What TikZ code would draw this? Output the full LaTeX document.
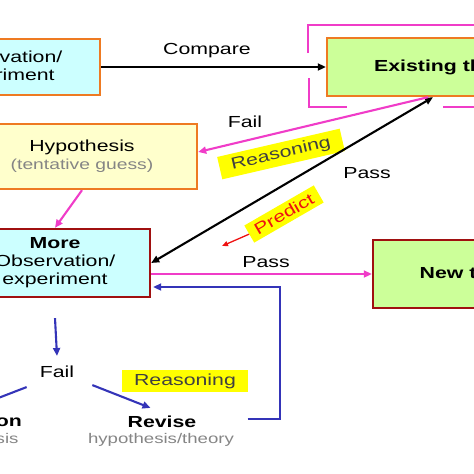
\documentclass[tikz,border=0pt]{standalone}
\usepackage{fontspec}
\setmainfont{Liberation Sans}[FakeStretch=1.33]
\usetikzlibrary{arrows.meta}

\definecolor{cyanfill}{HTML}{CCFFFF}
\definecolor{greenfill}{HTML}{CCFF99}
\definecolor{creamfill}{HTML}{FFFFCC}
\definecolor{orangeline}{HTML}{EE7A22}
\definecolor{redline}{HTML}{A01010}
\definecolor{pinkline}{HTML}{F03CC8}
\definecolor{blueline}{HTML}{3434B8}
\definecolor{tagyellow}{HTML}{FFFF00}
\definecolor{predred}{HTML}{EE1111}
\definecolor{subgray}{HTML}{858585}

\tikzset{
  box/.style={draw=orangeline, line width=2.4pt, align=center, inner sep=0pt,
    font=\fontsize{16}{18}\selectfont},
  lbl/.style={inner sep=1pt, font=\fontsize{16}{18}\selectfont},
  boldlbl/.style={inner sep=1pt, font=\fontsize{16}{18}\selectfont\bfseries},
  sublbl/.style={inner sep=1pt, text=subgray, font=\fontsize{14}{16}\selectfont},
  tag/.style={fill=tagyellow, inner xsep=12pt, inner ysep=4pt, text=black!75,
    font=\fontsize{16}{18}\selectfont},
  arr/.style={line width=2.1pt, -{Triangle[length=8pt,width=7pt]}},
  bothways/.style={line width=2.1pt, {Triangle[length=8pt,width=7pt]}-{Triangle[length=8pt,width=7pt]}},
  bracket/.style={draw=pinkline, line width=2.8pt},
}

\begin{document}
\begin{tikzpicture}[x=1pt,y=-1pt]
\useasboundingbox (0,0) rectangle (474,474);
\clip (0,0) rectangle (474,474);

\node[box, fill=cyanfill, minimum width=196pt, minimum height=56pt] (obs) at (2,67) {Observation/\\experiment};
\node[box, fill=greenfill, minimum width=248pt, minimum height=58pt, font=\fontsize{16}{18}\selectfont\bfseries] (exist) at (451,67) {Existing theory};
\node[box, fill=creamfill, minimum width=230pt, minimum height=65pt] (hyp) at (82,156.5) {Hypothesis\\{\color{subgray}\fontsize{14.5}{18}\selectfont(tentative guess)}};
\node[box, fill=cyanfill, draw=redline, minimum width=190pt, minimum height=68pt] (more) at (55,263) {\textbf{More}\\Observation/\\experiment};
\node[box, fill=greenfill, draw=redline, minimum width=208pt, minimum height=68pt, font=\fontsize{16}{18}\selectfont\bfseries] (newt) at (477,274) {New theory};

\draw[bracket] (308,53) |- (480,25);
\draw[bracket] (309,78) |- (347,107);
\draw[bracket] (443,107) -- (480,107);

\node[lbl] (cmp) at (207,51) {Compare};
\node[lbl] (failtop) at (245,122) {Fail};
\node[lbl] (passdiag) at (367,173) {Pass};
\node[lbl] (passright) at (266,262) {Pass};
\node[tag, rotate=13] (reason1) at (281,154) {Reasoning};
\node[tag, rotate=30, text=predred, inner xsep=7pt, inner ysep=4pt] (pred) at (284,214) {Predict};
\node[tag] (reason2) at (185,381) {Reasoning};
\node[lbl] (failbot) at (57,372) {Fail};
\node[boldlbl] (reject) at (-26,422) {Rejection};
\node[sublbl] (rejectsub) at (-26,440) {hypothesis};
\node[boldlbl] (revise) at (162,422) {Revise};
\node[sublbl] (revisesub) at (161,440) {hypothesis/theory};
\coordinate (predtip) at (222,246);

\draw[arr] (obs.east) -- (exist.west);
\draw[bothways] ([xshift=-18pt]exist.south) -- (more.east);
\draw[arr, pinkline] ([xshift=-23pt]exist.south) -- ([yshift=4.5pt]hyp.east);
\draw[arr, pinkline] (hyp.south) -- (more.north);
\draw[arr, pinkline] ([yshift=-11pt]more.east) -- (newt.west);
\draw[predred, line width=1.3pt, -{Triangle[length=6pt,width=5pt]}] (pred.west) -- (predtip);
\draw[arr, blueline] ([yshift=-20pt]more.south) -- ([yshift=9pt]failbot.north);
\draw[arr, blueline] ([shift={(-12pt,-8pt)}]failbot.south west) -- ([yshift=6pt]reject.north);
\draw[arr, blueline] ([shift={(17pt,-6pt)}]failbot.south east) -- ([shift={(24pt,7pt)}]revise.north west);
\draw[arr, blueline] ([xshift=50pt,yshift=3pt]revise.east) -| ([xshift=129pt,yshift=-24pt]more.east) -- ([xshift=2pt,yshift=-24pt]more.east);
\end{tikzpicture}
\end{document}
